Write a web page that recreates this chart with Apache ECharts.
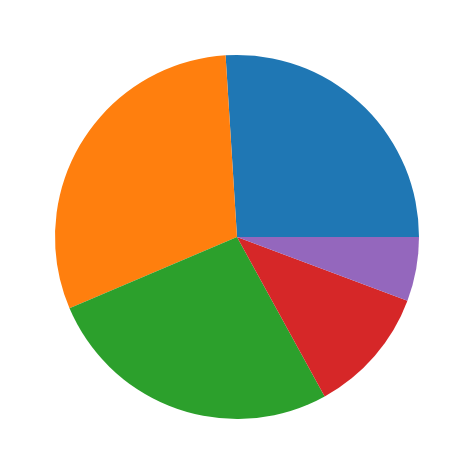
<!DOCTYPE html>
<html>
<head>
<meta charset="utf-8">
<script src="https://cdn.jsdelivr.net/npm/echarts@6/dist/echarts.min.js"></script>
<style>
  html, body { margin: 0; padding: 0; background: #fff; }
  #chart { width: 474px; height: 474px; }
</style>
</head>
<body>
<div id="chart"></div>
<script>
// slice sizes (matplotlib order: counterclockwise from 3 o'clock)
const sliceNames = ['A', 'B', 'C', 'D', 'E'];
const sliceValues = [26.0, 30.4, 26.6, 11.3, 5.7];
const sliceColors = ['#1f77b4', '#ff7f0e', '#2ca02c', '#d62728', '#9467bd'];

const chart = echarts.init(document.getElementById('chart'));
chart.setOption({
  animation: false,
  backgroundColor: '#ffffff',
  series: [{
    type: 'pie',
    center: [237, 237],
    radius: 182,
    startAngle: 0,
    clockwise: false,
    label: { show: false },
    labelLine: { show: false },
    emphasis: { disabled: true },
    itemStyle: { borderWidth: 0 },
    data: sliceNames.map((n, i) => ({
      name: n,
      value: sliceValues[i],
      itemStyle: { color: sliceColors[i] }
    }))
  }]
});
</script>
</body>
</html>
